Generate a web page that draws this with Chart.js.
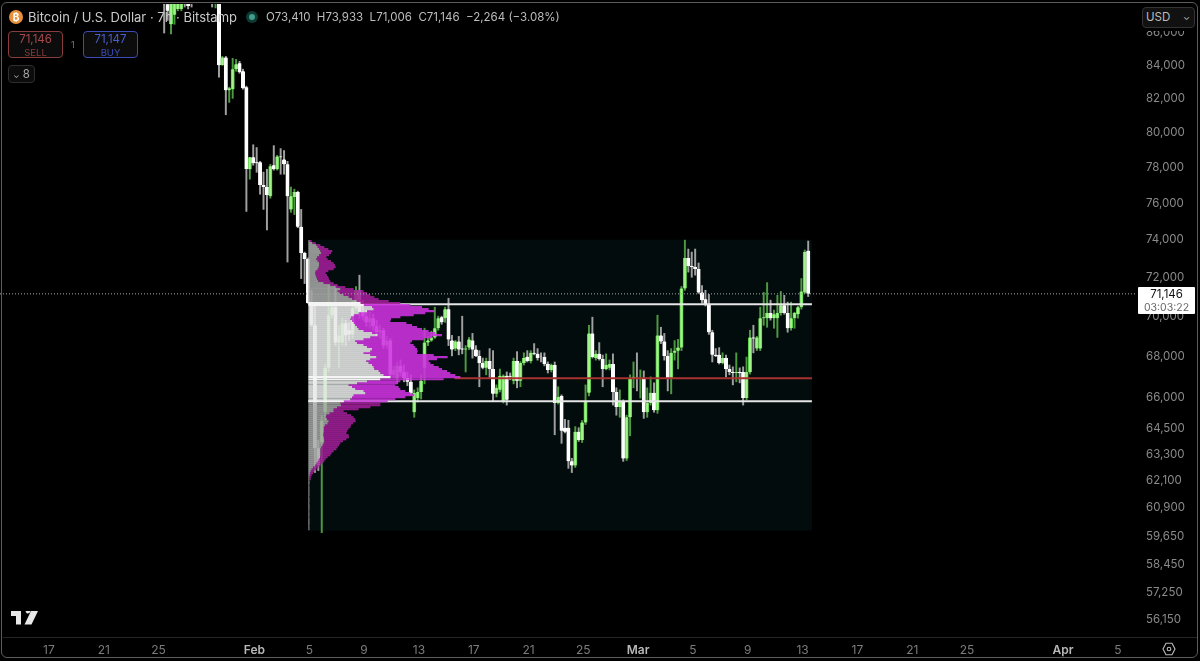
<!DOCTYPE html>
<html><head><meta charset="utf-8">
<style>
html,body{margin:0;padding:0;background:#000;width:1200px;height:661px;overflow:hidden;font-family:Inter,"Open Sans",sans-serif}
#c{position:absolute;left:0;top:0}
.t{position:absolute;white-space:nowrap}
#frame{position:absolute;left:1px;top:2px;width:1195px;height:654px;border:1.5px solid #5c5c5c;border-radius:6px;pointer-events:none}
#sep{position:absolute;left:3px;top:637px;width:1194px;height:1px;background:#262626}
.box{position:absolute;border-radius:4px;text-align:center;box-sizing:border-box;background:#0c0c0c}
</style></head><body>
<canvas id="c" width="1200" height="661"></canvas>
<div id="sep"></div>
<div id="frame"></div>
<div class="t" style="left:9px;top:10px;width:14px;height:14px;border-radius:50%;background:#e8913a;color:#fff;font-size:10px;line-height:14px;text-align:center;font-weight:700">₿</div>
<div class="t" style="left:28px;top:9px;font-size:13px;color:#c9c9c9;line-height:17px">Bitcoin / U.S. Dollar · 7h · Bitstamp</div>
<div class="t" style="left:246px;top:11px;width:12px;height:12px;border-radius:50%;background:#0f3a33"></div>
<div class="t" style="left:249px;top:14px;width:6px;height:6px;border-radius:50%;background:#3f9f8c"></div>
<div class="t" style="left:266px;top:10px;font-size:11.5px;color:#bdbdbd;line-height:15px">O73,410&nbsp; H73,933&nbsp; L71,006&nbsp; C71,146&nbsp; −2,264 (−3.08%)</div>
<div class="box" style="left:8px;top:31px;width:55px;height:27px;border:1px solid #8a3b3b;color:#a8484a;font-size:11.5px;line-height:13px;padding-top:1px">71,146<br><span style="font-size:9.5px;color:#8a3b3b">SELL</span></div>
<div class="t" style="left:71px;top:39px;font-size:9px;color:#777">1</div>
<div class="box" style="left:83px;top:31px;width:55px;height:27px;border:1px solid #3a4cb8;color:#4a5fc8;font-size:11.5px;line-height:13px;padding-top:1px">71,147<br><span style="font-size:9.5px;color:#3a4cb8">BUY</span></div>
<div class="box" style="left:8px;top:65px;width:27px;height:18px;border:1px solid #2e2e2e;color:#aaa;font-size:11.5px;line-height:16px"><span style="font-size:8px">⌄</span> 8</div>
<div class="t" style="left:1138px;top:26px;width:58px;height:5px;background:#000"></div>
<div class="box" style="left:1142px;top:7px;width:53px;height:21px;border:1px solid #333;background:#111;color:#bbb;font-size:11.5px;line-height:19px;text-align:left;padding-left:3px">USD<span style="position:absolute;right:4px;top:-1px;font-size:9px">⌄</span></div>
<div class="box" style="left:1138px;top:287px;width:57px;height:27px;background:#fff;border-radius:1px;color:#111;font-size:11.5px;line-height:13px;padding-top:1px">71,146<br><span style="font-size:10.5px;color:#666">03:03:22</span></div>
<svg class="t" style="left:11px;top:611px" width="27" height="15" viewBox="0 0 27 15"><path d="M0 0h10v13.5H5V5H0zM12 0h2.6a2.4 2.4 0 1 1 0 .1zM20 0h7l-6.5 13.5H13.5z" fill="#e8e8e8"/></svg>
<svg class="t" style="left:1162px;top:642px" width="14" height="14" viewBox="0 0 14 14"><path d="M4 1.2h6L13 7l-3 5.8H4L1 7z" fill="none" stroke="#bbb" stroke-width="1.1"/><circle cx="7" cy="7" r="1.8" fill="none" stroke="#bbb" stroke-width="1.1"/></svg>
<script src="https://cdn.jsdelivr.net/npm/chart.js@4"></script>
<script>
// ---- axes (x in days since 1 Jan)
const priceTicks=[86000,84000,82000,80000,78000,76000,74000,72000,70000,68000,66000,64500,63300,62100,60900,59650,58450,57250,56150];
const dayTicks=[16,20,24,31,35,39,43,47,51,55,59,63,67,71,75,79,83,90,94];
const dayLabels=['17','21','25','Feb','5','9','13','17','21','25','Mar','5','9','13','17','21','25','Apr','5'];
const monthTicks=[31,59,90];
const lastPrice=71146, valueHigh=70615, valueLow=65800, pocPrice=66910;
const firstCandleDay=24.41, candleStep=0.25;
const profileStartDay=34.93, profileEndDay=71.68, profileTop=74000, profileBottom=59907, pocTipDay=45.6;
// ---- candles
const opens=[88300,87820,86550,87150,87520,87520,88000,88060,88360,88850,88850,89090,88730,88970,88610,88240,
88480,84010,84490,82490,82560,83770,84130,83640,82680,77890,78570,78290,78290,77000,76890,76380,78120,77890,78620,78450,78170,75650,76330,76610,74700,73290,72970,
70660,69540,63590,63860,65280,67420,70050,70460,68670,68670,69640,69290,69080,70410,71330,70200,70000,69690,69900,69490,69190,69290,68520,68780,67080,66930,67520,67220,66930,66740,65280,65960,66250,67420,68670,68780,68930,69390,69950,69900,
70360,68780,68370,68730,68370,68320,68420,68780,68320,68010,67660,67420,67760,67360,66160,66350,65820,67030,67030,66790,67760,66790,67660,67970,67760,68160,68110,67970,67950,67610,67320,67560,65720,66060,64550,64550,63000,62800,64360,63970,64800,66210,69130,67900,68110,67850,67370,67420,67610,66250,65530,65770,63120,
65040,66930,66930,66880,66930,65280,65720,66210,65380,69030,68730,68010,66930,68160,68270,68420,71430,73030,72600,72550,72440,71220,70870,70610,69190,68060,68060,67660,67900,67370,67220,67170,67220,67220,65960,67220,68930,68370,68370,69900,69900,70160,69900,69900,70160,70560,70160,69390,69900,70100,70460,71220,73410];
const highs=[88610,88000,88610,88300,88360,88300,88480,88300,88610,89210,89330,89450,89210,89330,88850,88730,
88730,84550,84550,82680,84430,84370,84250,83770,82740,78570,79290,79130,78340,77730,77890,78170,79240,78680,79070,78960,78340,76890,76770,76660,75650,73340,73030,
71330,70560,63960,65130,67610,71580,70580,71580,69540,69900,69800,69690,70820,71530,72120,70820,70310,70200,70100,69800,69540,69390,68980,68880,67520,67710,67810,67560,67220,67080,66350,66450,67080,69390,68980,69240,70460,70000,70000,70460,
70920,69030,68780,68980,70000,68520,68930,69130,68520,68270,67900,67900,68370,68270,66590,67360,67080,67220,67170,67900,68220,67730,68160,68270,68270,68620,68370,68160,68160,67710,67610,67710,66500,66110,64940,64900,63130,64600,64550,64890,66590,69540,69950,68270,68670,68050,68110,67810,68110,66450,66350,65870,65140,
67080,67710,68160,67320,67270,66450,66980,66690,70050,69440,69130,68270,68370,68770,68830,71530,73980,73500,73340,73500,72760,71580,71330,71120,69290,68370,68420,68160,68050,67560,67470,68160,67420,67470,67950,69290,69540,68980,70460,71220,71730,70820,70310,71070,71270,71070,70720,70720,70200,70510,71940,73450,73933];
const lows=[86000,86790,85940,86550,87400,87400,87640,87520,87640,88480,88610,88480,88480,88360,87640,87580,
83280,84010,81040,81770,82010,83640,83520,82560,75540,77330,78120,77720,76490,75650,74530,76270,77840,77840,77610,77610,72810,75490,75370,74650,71940,71680,70660,
69490,62480,62570,59810,64900,67220,69900,68520,67420,68520,68520,68780,68880,70310,69900,69800,69490,69390,69290,69030,68880,68370,68370,66930,66930,66640,67030,66740,66550,66110,65040,65770,65910,66640,68520,68730,68880,69290,69590,69690,
68520,68010,68270,68060,68110,67220,68320,67900,67970,66500,67370,67080,66930,65820,66010,66250,65720,65620,66840,66640,66450,66500,67560,67710,67660,68060,67800,67710,67520,67170,67220,64220,65670,63820,64310,62670,62480,62710,63910,63860,64700,66060,67900,67800,67800,66500,67320,67320,65620,65140,65040,62990,63030,
64170,66450,66300,65960,64990,65040,65620,65280,65230,68620,67800,66300,66160,67800,67370,68270,71330,72280,72010,72120,71170,70660,70520,69080,67710,67970,67610,67610,66980,67080,66590,66740,66690,65620,65870,67120,68160,68270,68270,69540,69440,69800,69390,68930,70050,70100,69190,69290,69390,69900,70360,71170,71006];
const closes=[87820,87400,88300,88120,88120,88000,87820,87700,88060,88610,89090,88730,88970,88610,88240,88480,
84010,84490,82490,82620,83770,84070,83580,82620,77900,78570,78230,78230,77000,76890,76440,78060,77890,78620,78570,78170,76380,76380,76610,74700,73290,72970,70660,
69540,63590,62800,64890,67420,70050,70460,68670,69030,69640,69030,69080,70410,71330,70200,70000,69690,69900,69490,69190,69290,68520,68780,67080,67320,67520,67220,66930,66740,66200,66200,66250,66790,68670,68780,68930,69390,69900,69690,70360,
68830,68320,68730,68320,68320,68370,68830,68320,68010,67660,67420,67760,67360,66160,66450,67030,67030,65870,66980,67760,66790,67660,67900,67760,68160,68110,67900,67950,67610,67320,67560,65720,66010,64410,64360,63000,62800,64360,63970,64800,65770,69130,67950,68110,67850,67370,67560,67610,66250,65530,65770,63120,65040,
66930,66980,66880,66930,65280,65720,66210,65380,69030,68730,68010,66930,68160,68270,68420,71430,73030,72600,72550,72440,71220,70820,70610,69190,68060,68010,67660,67900,67370,67220,67170,67220,67170,65960,67220,68930,68880,68930,69900,69950,70160,69900,70100,70160,70560,70160,69390,69900,70160,70460,71270,73350,71146];
// ---- volume profile
const profilePrices=[73926,73819,73712,73606,73499,73392,73285,73178,73072,72965,
72858,72753,72648,72542,72437,72332,72227,72122,72016,71911,
71806,71702,71599,71495,71391,71288,71184,71080,70977,70873,
70769,70667,70565,70462,70360,70258,70156,70054,69951,69849,
69747,69646,69545,69444,69344,69243,69142,69041,68940,68840,
68739,68640,68540,68441,68342,68243,68144,68045,67945,67846,
67747,67649,67551,67453,67355,67258,67160,67062,66964,66866,
66768,66672,66575,66479,66382,66286,66190,66093,65997,65900,
65804,65709,65614,65519,65424,65329,65233,65138,65043,64948,
64853,64759,64666,64572,64479,64385,64291,64198,64104,64011,
63917,63825,63733,63640,63548,63456,63364,63271,63179,63087,
62994,62903,62812,62721,62630,62539,62448,62357,62266,62175,
62084,61994,61905,61815,61725,61636,61546,61456,61366,61277,
61187,61099,61010,60922,60834,60746,60657,60569,60481,60392,
60304,60217,60130,60043,59957];
const greyVolume=[4,12,24,28,32,36,38,32,26,24,28,32,32,31,28,22,20,22,24,26,30,46,66,81,96,88,94,106,121,131,144,156,166,191,196,176,151,136,128,126,131,136,141,146,151,166,191,208,186,166,141,146,166,176,191,186,166,186,204,186,174,181,191,196,198,211,216,226,246,216,176,146,121,131,141,166,171,136,131,126,106,96,98,86,76,76,
64,54,52,56,61,58,50,46,46,46,45,44,46,47,48,46,42,38,36,36,36,36,34,30,27,24,20,14,10,7,5,4,3,3,
2,3,2,2,3,2,3,2,2,3,2,2,3,2,3,2,2,3,2,2,3,2,2,3,2];
const totalVolume=[10,22,36,48,60,72,68,62,54,58,68,76,80,82,76,60,52,56,60,62,66,76,88,111,136,166,176,186,198,211,241,276,306,341,361,378,351,316,276,248,246,294,311,326,341,361,381,401,371,346,311,306,316,321,326,328,326,376,418,386,361,366,376,391,401,416,426,441,456,406,276,266,261,271,276,291,306,318,291,261,238,216,216,186,151,106,
116,128,136,141,142,134,128,126,120,116,114,121,122,114,104,96,92,88,84,76,70,66,58,52,48,42,36,30,24,18,14,10,8,7,
5,5,4,5,4,5,4,5,4,4,5,4,4,5,4,4,5,4,4,5,4,5,4,4,5];
const volumePerDay=41.1;

const X_MIN=12.43,X_MAX=95.33,Y_MIN=55440,Y_MAX=87833;
const candleX=opens.map((_,i)=>firstCandleDay+i*candleStep);
const isUp=i=>closes[i]>=opens[i];
const inValue=p=>p<=valueHigh&&p>=valueLow;
const isPoc=p=>Math.abs(p-pocPrice)<60;
const isEdge=p=>Math.abs(p-valueHigh)<60||Math.abs(p-valueLow)<60;
const volX=v=>profileStartDay+v/volumePerDay;
const noPad=s=>{s.paddingLeft=0;s.paddingRight=0;s.paddingTop=0;s.paddingBottom=0;};

new Chart(document.getElementById('c'),{
  type:'bar',
  data:{datasets:[
    {type:'line',label:'range',order:20,data:[{x:profileStartDay,y:profileTop},{x:profileEndDay,y:profileTop}],borderWidth:0,pointRadius:0,fill:{value:profileBottom},backgroundColor:'#030c0c'},
    {label:'wicks',order:10,grouped:false,barPercentage:1,categoryPercentage:1,maxBarThickness:1.3,
      data:candleX.map((x,i)=>({x,y:[lows[i],highs[i]]})),
      backgroundColor:candleX.map((_,i)=>isUp(i)?'#4d9a42':'#a0a0a0')},
    {label:'bodies',order:9,grouped:false,barPercentage:1,categoryPercentage:1,maxBarThickness:3.4,
      data:candleX.map((x,i)=>({x,y:[opens[i],closes[i]]})),
      backgroundColor:candleX.map((_,i)=>isUp(i)?'#a4f28e':'#ffffff'),
      borderColor:candleX.map((_,i)=>isUp(i)?'#5ed04a':'#ffffff'),borderWidth:{left:1,right:1,top:0,bottom:0},borderSkipped:false},
    {type:'line',label:'poc',order:6,data:[{x:pocTipDay,y:pocPrice},{x:profileEndDay,y:pocPrice}],borderColor:'#a8322f',borderWidth:2,pointRadius:0},
    {type:'line',label:'vah',order:5,data:[{x:profileStartDay,y:valueHigh},{x:profileEndDay,y:valueHigh}],borderColor:'#e6e6e6',borderWidth:2,pointRadius:0},
    {type:'line',label:'val',order:5,data:[{x:profileStartDay,y:valueLow},{x:profileEndDay,y:valueLow}],borderColor:'#e6e6e6',borderWidth:2,pointRadius:0},
    {label:'grey',order:3,indexAxis:'y',xAxisID:'xp',yAxisID:'yp',grouped:false,barPercentage:1.1,categoryPercentage:1,
      data:profilePrices.map((p,i)=>({y:p,x:[volX(0),volX(greyVolume[i])]})),
      backgroundColor:profilePrices.map(p=>isPoc(p)||isEdge(p)?'#f4f4f4':inValue(p)?'rgba(232,232,232,.86)':'rgba(165,165,165,.88)')},
    {label:'magenta',order:3,indexAxis:'y',xAxisID:'xp',yAxisID:'yp',grouped:false,barPercentage:1.1,categoryPercentage:1,
      data:profilePrices.map((p,i)=>({y:p,x:[volX(greyVolume[i]),volX(totalVolume[i])]})),
      backgroundColor:profilePrices.map(p=>inValue(p)?'rgba(205,50,222,.88)':'rgba(158,30,150,.9)')},
    {type:'line',label:'last',order:1,data:[{x:X_MIN,y:lastPrice},{x:X_MAX,y:lastPrice}],borderColor:'#a8a8a8',borderWidth:1,borderDash:[1,2],pointRadius:0}
  ]},
  options:{
    responsive:false,animation:false,devicePixelRatio:1,
    layout:{padding:{top:4,left:0,right:0,bottom:0}},
    plugins:{legend:{display:false},tooltip:{enabled:false}},
    scales:{
      x:{type:'linear',offset:false,min:X_MIN,max:X_MAX,position:'bottom',grid:{display:false,drawTicks:false},border:{display:false},
        afterBuildTicks(s){s.ticks=dayTicks.map(value=>({value}));},
        afterFit(s){s.height=24;noPad(s);},
        ticks:{autoSkip:false,maxRotation:0,padding:6,
          callback(v,i){return dayLabels[i];},
          color(c){return c.tick&&monthTicks.includes(c.tick.value)?'#b8b8b8':'#7c7c7c';},
          font(c){return {family:'Inter',size:12,weight:c.tick&&monthTicks.includes(c.tick.value)?'600':'400'};}}},
      y:{type:'logarithmic',offset:false,min:Y_MIN,max:Y_MAX,position:'right',grid:{display:false,drawTicks:false},border:{display:false},
        afterBuildTicks(s){s.ticks=priceTicks.map(value=>({value}));},
        afterFit(s){s.width=64;noPad(s);},
        ticks:{autoSkip:false,padding:10,align:'center',
          callback(v){return Number(v).toLocaleString('en-US');},
          color:'#8a8a8a',font:{family:'Inter',size:11.5}}},
      xp:{type:'linear',axis:'x',offset:false,display:false,min:X_MIN,max:X_MAX},
      yp:{type:'logarithmic',axis:'y',offset:false,display:false,min:Y_MIN,max:Y_MAX}
    }
  }
});
</script>
</body></html>
